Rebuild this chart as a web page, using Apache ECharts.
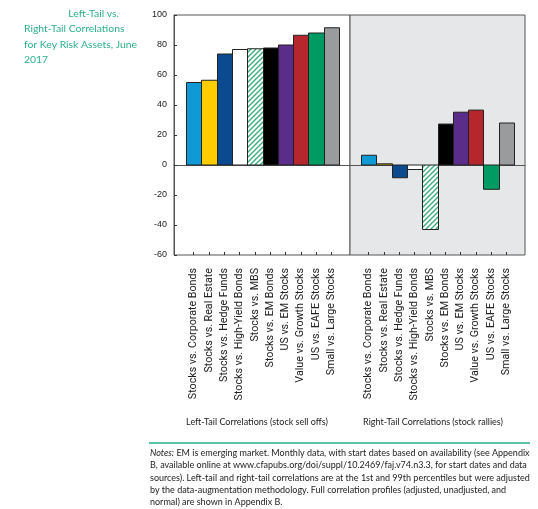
<!DOCTYPE html>
<html>
<head>
<meta charset="utf-8">
<script src="https://cdn.jsdelivr.net/npm/echarts@6/dist/echarts.min.js"></script>
<style>
  html, body { margin: 0; padding: 0; background: #fff; }
  #container { width: 538px; height: 509px; }
</style>
</head>
<body>
<div id="container"></div>
<script>
// data
var categories = [
  'Stocks vs. Corporate Bonds',
  'Stocks vs. Real Estate',
  'Stocks vs. Hedge Funds',
  'Stocks vs. High-Yield Bonds',
  'Stocks vs. MBS',
  'Stocks vs. EM Bonds',
  'US vs. EM Stocks',
  'Value vs. Growth Stocks',
  'US vs. EAFE Stocks',
  'Small vs. Large Stocks'
];
var leftTail = [55, 56.5, 74, 77, 77.5, 78, 80, 86.5, 88, 91.5];
var rightTail = [6.5, 0.8, -8.5, -3, -43, 27.3, 35.2, 36.6, -16.2, 28];
var yTicks = { min: -60, max: 100, step: 20 };

// hatch for the MBS bar
var hatch = document.createElement('canvas');
hatch.width = 5; hatch.height = 5;
var hc = hatch.getContext('2d');
hc.fillStyle = '#fff';
hc.fillRect(0, 0, 5, 5);
hc.strokeStyle = '#3aab7d';
hc.lineWidth = 1.4;
hc.beginPath();
hc.moveTo(-1, 6); hc.lineTo(6, -1);
hc.moveTo(-1, 1); hc.lineTo(1, -1);
hc.moveTo(4, 6); hc.lineTo(6, 4);
hc.stroke();

var barColors = ['#0f9ad6', '#ffcc00', '#0b4a8f', '#ffffff',
  { image: hatch, repeat: 'repeat' },
  '#000000', '#5b2d8a', '#b5262d', '#009a63', '#9a9b9d'];

// bars fill the whole category band, outlined in black
function renderBar(params, api) {
  var i = api.value(0);
  var v = api.value(1);
  var top = api.coord([i, v]);
  var base = api.coord([i, 0]);
  var w = api.size([1, 0])[0];
  var x0 = Math.round(top[0] - w / 2) + 0.5;
  var x1 = Math.round(top[0] + w / 2) + 0.5;
  var y0 = Math.min(top[1], base[1]);
  var h = Math.max(Math.abs(base[1] - top[1]), 1);
  return {
    type: 'rect',
    shape: { x: x0, y: y0, width: x1 - x0, height: h },
    style: { fill: barColors[i], stroke: '#222', lineWidth: 1 }
  };
}

function toPoints(vals) {
  return vals.map(function (v, i) { return [i, v]; });
}

var dom = document.getElementById('container');
var myChart = echarts.init(dom, null, { renderer: 'canvas' });

var teal = '#2bb08c';
var font = 'Lato, "Open Sans", sans-serif';

var hiddenY = function (gi) {
  return {
    type: 'value', gridIndex: gi, min: yTicks.min, max: yTicks.max, interval: yTicks.step,
    axisLine: { show: false }, axisTick: { show: false }, axisLabel: { show: false }, splitLine: { show: false }
  };
};
var panelX = function (gi) {
  return {
    type: 'value', gridIndex: gi, min: 0, max: 1,
    axisLine: { show: true, onZero: true, lineStyle: { color: '#555', width: 1 } },
    axisTick: { show: false }, axisLabel: { show: false }, splitLine: { show: false }
  };
};
var barX = function (gi) {
  return {
    type: 'category', gridIndex: gi, data: categories, position: 'bottom',
    axisLine: { show: false, onZero: false },
    axisTick: { show: true, inside: true, length: 3, alignWithLabel: true, interval: 0, lineStyle: { color: '#333' } },
    axisLabel: { interval: 0, rotate: 90, margin: 13, fontSize: 10.7, color: '#222', fontFamily: '"Liberation Sans Narrow", "Roboto", sans-serif' }
  };
};

var option = {
  animation: false,
  grid: [
    { left: 174, top: 15, width: 176, height: 240, show: true, borderColor: '#555', borderWidth: 1, backgroundColor: '#fff' },
    { left: 350, top: 15, width: 175, height: 240, show: true, borderColor: '#555', borderWidth: 1, backgroundColor: '#e6e7e8' },
    { left: 186, top: 15, width: 153, height: 240 },
    { left: 361, top: 15, width: 153, height: 240 }
  ],
  xAxis: [panelX(0), panelX(1), barX(2), barX(3)],
  yAxis: [
    {
      type: 'value', gridIndex: 0, min: yTicks.min, max: yTicks.max, interval: yTicks.step,
      axisLine: { show: true, lineStyle: { color: '#555' } },
      axisTick: { show: true, inside: true, length: 3, lineStyle: { color: '#333' } },
      axisLabel: { fontSize: 9, color: '#222', margin: 7, fontFamily: 'Arial, "Liberation Sans", sans-serif' },
      splitLine: { show: false }
    },
    hiddenY(1), hiddenY(2), hiddenY(3)
  ],
  series: [
    {
      type: 'custom', xAxisIndex: 2, yAxisIndex: 2, renderItem: renderBar,
      encode: { x: 0, y: 1 }, data: toPoints(leftTail)
    },
    {
      type: 'custom', xAxisIndex: 3, yAxisIndex: 3, renderItem: renderBar,
      encode: { x: 0, y: 1 }, data: toPoints(rightTail)
    }
  ],
  graphic: [
    { type: 'text', x: 119, y: 9, style: { text: 'Left-Tail vs.', fill: teal, font: '10.4px ' + font, textAlign: 'right' } },
    { type: 'text', x: 24, y: 24, style: { text: 'Right-Tail Correlations', fill: teal, font: '10.4px ' + font } },
    { type: 'text', x: 24, y: 40, style: { text: 'for Key Risk Assets, June', fill: teal, font: '10.4px ' + font } },
    { type: 'text', x: 24, y: 55, style: { text: '2017', fill: teal, font: '10.4px ' + font } },
    { type: 'text', x: 257, y: 422, style: { text: 'Left-Tail Correlations (stock sell offs)', fill: '#222', font: '9px ' + font, textAlign: 'center', textVerticalAlign: 'middle' } },
    { type: 'text', x: 433, y: 422, style: { text: 'Right-Tail Correlations (stock rallies)', fill: '#222', font: '9px ' + font, textAlign: 'center', textVerticalAlign: 'middle' } },
    { type: 'line', shape: { x1: 149, y1: 443, x2: 530, y2: 443 }, style: { stroke: '#5cc4a6', lineWidth: 2 } },
    {
      type: 'text', x: 150, y: 447,
      style: {
        text: '{i|Notes:} EM is emerging market. Monthly data, with start dates based on availability (see Appendix\n' +
          'B, available online at www.cfapubs.org/doi/suppl/10.2469/faj.v74.n3.3, for start dates and data\n' +
          'sources). Left-tail and right-tail correlations are at the 1st and 99th percentiles but were adjusted\n' +
          'by the data-augmentation methodology. Full correlation profiles (adjusted, unadjusted, and\n' +
          'normal) are shown in Appendix B.',
        fill: '#222', font: '9px ' + font, lineHeight: 12.3,
        rich: { i: { fontStyle: 'italic', fontSize: 9, fontFamily: 'Lato, sans-serif', fill: '#222' } }
      }
    }
  ]
};

if (option && typeof option === 'object') {
  myChart.setOption(option);
}

window.addEventListener('resize', myChart.resize);
</script>
</body>
</html>
